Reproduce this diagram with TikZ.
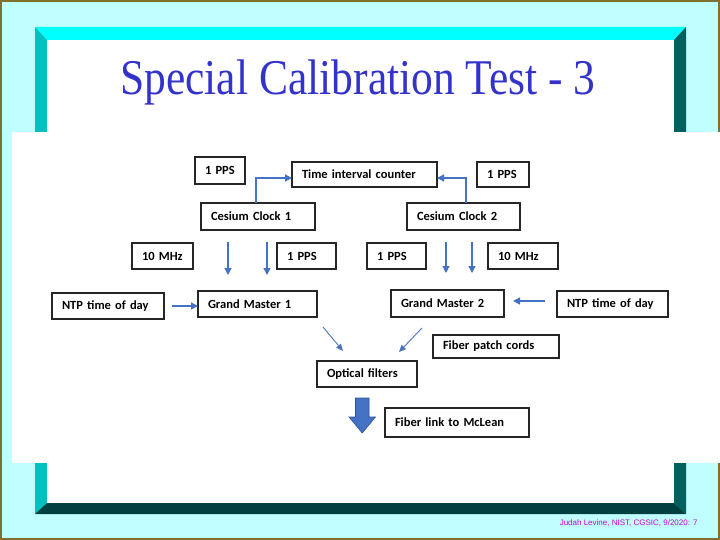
\documentclass[tikz,border=0pt]{standalone}
\usepackage{fontspec}
\usetikzlibrary{arrows.meta,calc}
\newfontfamily\boxfont{Carlito}
\newfontfamily\titlefont{Liberation Serif}
\newfontfamily\footfont{Liberation Sans}
\definecolor{paleaqua}{HTML}{C0FFFF}
\definecolor{bevtop}{HTML}{00FFFF}
\definecolor{bevleft}{HTML}{00C0C0}
\definecolor{bevright}{HTML}{006060}
\definecolor{bevbot}{HTML}{004040}
\definecolor{rimolive}{HTML}{807030}
\definecolor{titleblue}{HTML}{3333CC}
\definecolor{officeblue}{HTML}{4472C4}
\definecolor{officeedge}{HTML}{2F528F}
\definecolor{footmag}{HTML}{CC00CC}

\tikzset{
  cbox/.style={draw=black!85, line width=1.1pt, fill=white, inner xsep=10pt,
    inner ysep=2pt, outer sep=0pt, align=left,
    font=\boxfont\bfseries\fontsize{12.5}{14}\selectfont},
  arr/.style={officeblue, line width=1.3pt, -{Triangle[length=7pt,width=7pt]}},
  thinarr/.style={officeblue!85!gray, line width=0.9pt, -{Triangle[length=7pt,width=6pt]}}
}

\begin{document}
\begin{tikzpicture}[x=1pt,y=-1pt]
\useasboundingbox (0,0) rectangle (720,540);

% slide frame
\fill[paleaqua] (0,0) rectangle (720,540);
\draw[rimolive, line width=2pt] (1,1) rectangle (719,539);
\fill[bevtop] (35,27) -- (686,27) -- (674,40) -- (47,40) -- cycle;
\fill[bevleft] (35,27) -- (47,40) -- (47,503) -- (35,514) -- cycle;
\fill[bevright] (686,27) -- (686,514) -- (674,503) -- (674,40) -- cycle;
\fill[bevbot] (35,514) -- (47,503) -- (674,503) -- (686,514) -- cycle;
\fill[white] (47,40) rectangle (674,503);

% title
\node[titleblue, xscale=0.87, font=\titlefont\fontsize{50}{56}\selectfont] (title) at (358,82) {Special Calibration Test - 3};

% pasted screenshot
\fill[white] (12,132) rectangle (720,463);

% boxes
\node[cbox, minimum width=50pt, text width=30pt, minimum height=27pt] (ppsa) at (220,170.5) {1 PPS};
\node[cbox, minimum width=145pt, text width=125pt, minimum height=25pt] (tic) at (364.5,174.5) {Time interval counter};
\node[cbox, minimum width=52pt, text width=32pt, minimum height=25pt] (ppsb) at (503,174.5) {1 PPS};
\node[cbox, minimum width=114pt, text width=94pt, minimum height=27pt] (cs1) at (258,216.5) {Cesium Clock 1};
\node[cbox, minimum width=113pt, text width=93pt, minimum height=27pt] (cs2) at (463.5,216.5) {Cesium Clock 2};
\node[cbox, minimum width=61pt, text width=41pt, minimum height=26pt] (mhza) at (162.5,256) {10 MHz};
\node[cbox, minimum width=59pt, text width=39pt, minimum height=26pt] (ppsc) at (306.5,256) {1 PPS};
\node[cbox, minimum width=59pt, text width=39pt, minimum height=26pt] (ppsd) at (396.5,256) {1 PPS};
\node[cbox, minimum width=70pt, text width=50pt, minimum height=26pt] (mhzb) at (523,256) {10 MHz};
\node[cbox, minimum width=112pt, text width=92pt, minimum height=26pt] (ntpa) at (108,306) {NTP time of day};
\node[cbox, minimum width=119pt, text width=99pt, minimum height=26pt] (gm1) at (257.5,304) {Grand Master 1};
\node[cbox, minimum width=113pt, text width=93pt, minimum height=27pt] (gm2) at (447.5,303.5) {Grand Master 2};
\node[cbox, minimum width=111pt, text width=91pt, minimum height=26pt] (ntpb) at (612.5,304) {NTP time of day};
\node[cbox, minimum width=126pt, text width=106pt, minimum height=23pt] (patch) at (496,346.5) {Fiber patch cords};
\node[cbox, minimum width=100pt, text width=80pt, minimum height=26pt] (filt) at (367,374) {Optical filters};
\node[cbox, minimum width=144pt, text width=124pt, minimum height=29pt] (link) at (457,422.5) {Fiber link to McLean};

% clocks to counter
\draw[arr] ([xshift=-2pt]cs1.north) |- ([yshift=-3.5pt]tic.west);
\draw[arr] ([xshift=2.5pt]cs2.north) |- ([yshift=-3.5pt]tic.east);

% clocks to grand masters
\draw[arr, shorten <=12pt, shorten >=16pt] ([xshift=-30pt]cs1.south) -- ([xshift=-29.5pt]gm1.north);
\draw[arr, shorten <=12pt, shorten >=16pt] ([xshift=9pt]cs1.south) -- ([xshift=9.5pt]gm1.north);
\draw[arr, shorten <=12pt, shorten >=17pt] ([xshift=-17.5pt]cs2.south) -- ([xshift=-1.5pt]gm2.north);
\draw[arr, shorten <=12pt, shorten >=17pt] ([xshift=8.5pt]cs2.south) -- ([xshift=24.5pt]gm2.north);

% time of day
\draw[arr, shorten <=8pt] (ntpa.east) -- (ntpa.east -| gm1.west);
\draw[arr, shorten <=12pt, shorten >=9pt] ([yshift=3pt]ntpb.west) -- ([yshift=3pt]ntpb.west -| gm2.east);

% into the filters
\draw[thinarr] ($(gm1.south east)+(6,10)$) -- ($(filt.north west)+(26,-10)$);
\draw[thinarr] ($(gm2.south west)+(31,11)$) -- ($(filt.north east)+(-18,-9)$);

% block arrow out
\filldraw[fill=officeblue, draw=officeedge, line width=0.6pt]
  (355.5,398) -- (369,398) -- (369,417) -- (375.5,417) -- (362.25,433)
  -- (349,417) -- (355.5,417) -- cycle;

% footer
\node[footmag, anchor=east, font=\footfont\fontsize{8}{9}\selectfont] (foot) at (701,523) {Judah Levine, NIST, CGSIC, 9/2020: 7};

\end{tikzpicture}
\end{document}
